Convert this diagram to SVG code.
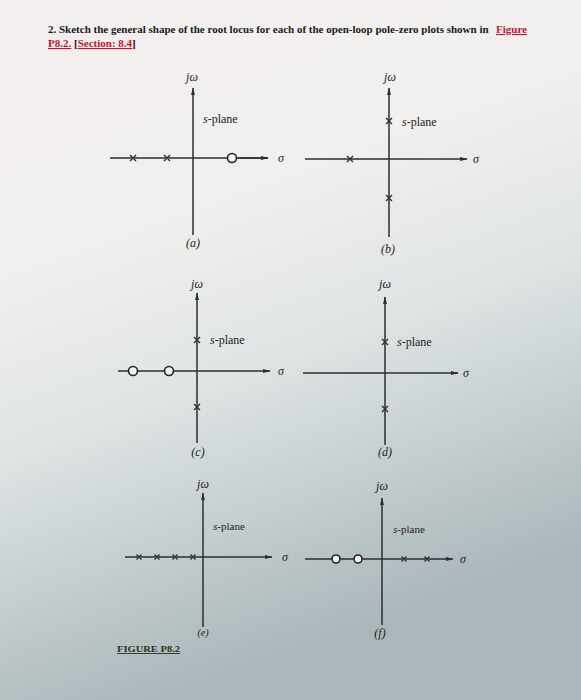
<svg xmlns="http://www.w3.org/2000/svg" width="581" height="700" viewBox="0 0 581 700">
<defs>
<linearGradient id="bg" x1="0" y1="0" x2="0.3" y2="1">
<stop offset="0" stop-color="#f3eeef"/>
<stop offset="0.35" stop-color="#f1f0ee"/>
<stop offset="0.6" stop-color="#dfe4e4"/>
<stop offset="1" stop-color="#a9b6ba"/>
</linearGradient>
<marker id="arr" viewBox="0 0 10 6" refX="9" refY="3" markerWidth="8" markerHeight="5" orient="auto" markerUnits="userSpaceOnUse">
<path d="M0,0.5 L10,3 L0,5.5 Z" fill="#2e2e2e"/>
</marker>
</defs>
<style>
.ax{stroke:#2e2e2e;stroke-width:1.5;fill:none}
.arr{marker-end:url(#arr)}
.pole{stroke:#2e2e2e;stroke-width:1.4;fill:none}
.zero{stroke:#222;stroke-width:1.6;fill:#f4f4f2}
.lbl{font-family:"Liberation Serif",serif;font-size:12px;fill:#222}
.it{font-style:italic}
.hd{font-family:"Liberation Serif",serif;font-size:11px;font-weight:bold;fill:#1a1a1a}
.red{fill:#c3132f;text-decoration:underline}
</style>
<rect width="581" height="700" fill="url(#bg)"/>

<g id="header">
<text class="hd" x="48" y="33">2. Sketch the general shape of the root locus for each of the open-loop pole-zero plots shown in</text>
<text class="hd red" x="527" y="33" text-anchor="end">Figure</text>
<text class="hd" x="48" y="47"><tspan class="red">P8.2.</tspan> [<tspan class="red">Section: 8.4</tspan>]</text>
</g>

<g id="panel-a">
<line class="ax" x1="110" y1="158" x2="268" y2="158"/>
<line class="ax arr" x1="193" y1="235" x2="193" y2="88"/>
<line class="ax arr" x1="238" y1="158" x2="268" y2="158"/>
<text class="lbl it" x="192" y="81" text-anchor="middle">jω</text>
<text class="lbl it" x="278" y="162">σ</text>
<text class="lbl" x="203" y="123"><tspan class="it">s</tspan>-plane</text>
<text class="lbl it" x="193" y="247" text-anchor="middle">(a)</text>
<path class="pole" d="M130,155 l6,6 M136,155 l-6,6 M164,155 l6,6 M170,155 l-6,6"/>
<circle class="zero" cx="232" cy="158" r="4.5"/>
</g>

<g id="panel-b">
<line class="ax arr" x1="305" y1="159" x2="467" y2="159"/>
<line class="ax arr" x1="389" y1="237" x2="389" y2="88"/>
<text class="lbl it" x="390" y="81" text-anchor="middle">jω</text>
<text class="lbl it" x="473" y="163">σ</text>
<text class="lbl" x="402" y="126"><tspan class="it">s</tspan>-plane</text>
<text class="lbl it" x="388" y="253" text-anchor="middle">(b)</text>
<path class="pole" d="M347,156 l6,6 M353,156 l-6,6 M386,118 l6,6 M392,118 l-6,6 M386,195 l6,6 M392,195 l-6,6"/>
</g>

<g id="panel-c">
<line class="ax arr" x1="118" y1="371" x2="270" y2="371"/>
<line class="ax arr" x1="197" y1="443" x2="197" y2="293"/>
<text class="lbl it" x="197" y="288" text-anchor="middle">jω</text>
<text class="lbl it" x="278" y="375">σ</text>
<text class="lbl" x="210" y="344"><tspan class="it">s</tspan>-plane</text>
<text class="lbl it" x="198" y="456" text-anchor="middle">(c)</text>
<circle class="zero" cx="133" cy="371" r="4.5"/>
<circle class="zero" cx="169" cy="371" r="4.5"/>
<path class="pole" d="M194,337 l6,6 M200,337 l-6,6 M194,404 l6,6 M200,404 l-6,6"/>
</g>

<g id="panel-d">
<line class="ax arr" x1="303" y1="373" x2="458" y2="373"/>
<line class="ax arr" x1="385" y1="445" x2="385" y2="297"/>
<text class="lbl it" x="385" y="288" text-anchor="middle">jω</text>
<text class="lbl it" x="463" y="377">σ</text>
<text class="lbl" x="397" y="346"><tspan class="it">s</tspan>-plane</text>
<text class="lbl it" x="385" y="456" text-anchor="middle">(d)</text>
<path class="pole" d="M382,339 l6,6 M388,339 l-6,6 M382,406 l6,6 M388,406 l-6,6"/>
</g>

<g id="panel-e">
<line class="ax arr" x1="125" y1="557" x2="272" y2="557"/>
<line class="ax arr" x1="203" y1="627" x2="203" y2="493"/>
<text class="lbl it" x="203" y="488" text-anchor="middle">jω</text>
<text class="lbl it" x="282" y="561">σ</text>
<text class="lbl" x="213" y="530" style="font-size:11px"><tspan class="it">s</tspan>-plane</text>
<text class="lbl it" x="203" y="636" text-anchor="middle" style="font-size:10px">(e)</text>
<path class="pole" d="M136.5,554.5 l5,5 M141.5,554.5 l-5,5 M154.5,554.5 l5,5 M159.5,554.5 l-5,5 M172.5,554.5 l5,5 M177.5,554.5 l-5,5 M190.5,554.5 l5,5 M195.5,554.5 l-5,5"/>
</g>

<g id="panel-f">
<line class="ax arr" x1="305" y1="559" x2="453" y2="559"/>
<line class="ax arr" x1="382" y1="625" x2="382" y2="498"/>
<text class="lbl it" x="382" y="490" text-anchor="middle">jω</text>
<text class="lbl it" x="460" y="563">σ</text>
<text class="lbl" x="393" y="533" style="font-size:11px"><tspan class="it">s</tspan>-plane</text>
<text class="lbl it" x="380" y="637" text-anchor="middle">(f)</text>
<circle class="zero" cx="336" cy="559" r="4"/>
<circle class="zero" cx="358" cy="559" r="4"/>
<path class="pole" d="M401.5,556.5 l5,5 M406.5,556.5 l-5,5 M424.5,556.5 l5,5 M429.5,556.5 l-5,5"/>
</g>

<g id="caption">
<text x="117" y="652" style="font-family:'Liberation Serif',serif;font-size:9px;font-weight:bold;fill:#2b3320;text-decoration:underline" textLength="63" lengthAdjust="spacingAndGlyphs">FIGURE P8.2</text>
</g>
</svg>
